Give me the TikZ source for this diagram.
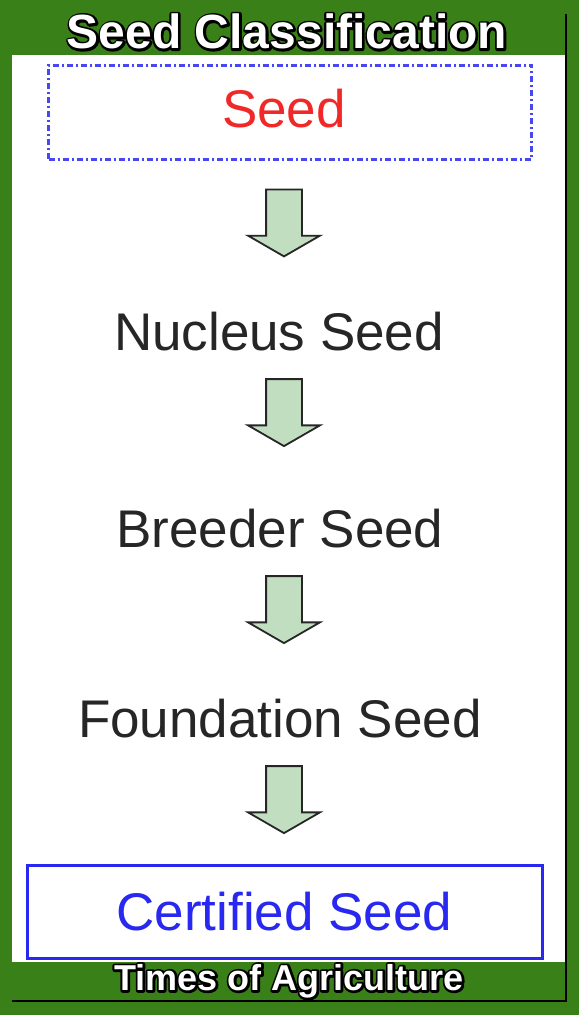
\documentclass[tikz,border=0pt]{standalone}
\usepackage{fontspec}
\setmainfont{Liberation Sans}
\usetikzlibrary{shapes.arrows,calc}
\definecolor{leaf}{RGB}{58,128,24}
\definecolor{arrowfill}{RGB}{194,222,192}
\definecolor{seedred}{RGB}{240,40,40}
\definecolor{seedblue}{RGB}{40,40,240}
% glyphs drawn with a wide stroke, for the black rim behind white text
\newcommand\rimtext[1]{\special{pdf:literal direct 2 Tr 4.5 w 1 j}#1\special{pdf:literal direct 0 Tr}}
\tikzset{
    stage/.style={text=black!85, font=\fontsize{53}{60}\selectfont, inner sep=0, text height=38pt, text depth=0pt},
    dotbox/.style={stage, draw=seedblue!85, line width=3pt, dash pattern=on 6pt off 3pt on 2pt off 3pt,
        minimum width=483pt, minimum height=94pt, text=seedred, text depth=8pt},
    solidbox/.style={stage, draw=seedblue, line width=3pt, minimum width=515pt, minimum height=93pt, text=seedblue},
    downarrow/.style={single arrow, draw=black!85, fill=arrowfill, line width=1.8pt, inner sep=17pt,
        shape border rotate=270, minimum height=67pt, minimum width=70pt,
        single arrow head extend=18pt, single arrow tip angle=120},
    banner/.style={text=white, font=\bfseries\fontsize{48}{56}\selectfont, inner sep=0, text depth=0pt},
    footnote/.style={banner, font=\bfseries\fontsize{36}{42}\selectfont}
}
\begin{document}
\begin{tikzpicture}[x=1pt,y=-1pt]
    \useasboundingbox (0,0) rectangle (579,1015);
    % frame
    \fill[leaf] (0,0) rectangle (579,1015);
    \fill[white] (12,55) rectangle (566,962);
    \draw[line width=2pt] (566,14) -- (566,1001) -- (12,1001);

    % outlined banner texts
    \node[banner, text=black] (titlerim) at (287,31.5) {\rimtext{Seed Classification}};
    \node[banner] (title) at (titlerim) {Seed Classification};
    \node[footnote, text=black] (footerrim) at (289,977.5) {\rimtext{Times of Agriculture}};
    \node[footnote] (footer) at (footerrim) {Times of Agriculture};

    % stages
    \node[dotbox] (seed) at (290,112) {\hspace*{-12pt}Seed};
    \node[stage] (nucleus) at (279,331) {Nucleus Seed};
    \node[stage] (breeder) at (280,528) {Breeder Seed};
    \node[stage] (foundation) at (280,718) {Foundation Seed};
    \node[solidbox] (certified) at (284.5,911.5) {Certified Seed};

    \coordinate (axis) at (284,0);
    \foreach \from/\to in {seed/nucleus,nucleus/breeder,breeder/foundation,foundation/certified}
        \path (\from.south -| axis) -- (\to.north -| axis)
            node[pos=0, downarrow, anchor=tail, yshift=-28pt] {};
\end{tikzpicture}
\end{document}
